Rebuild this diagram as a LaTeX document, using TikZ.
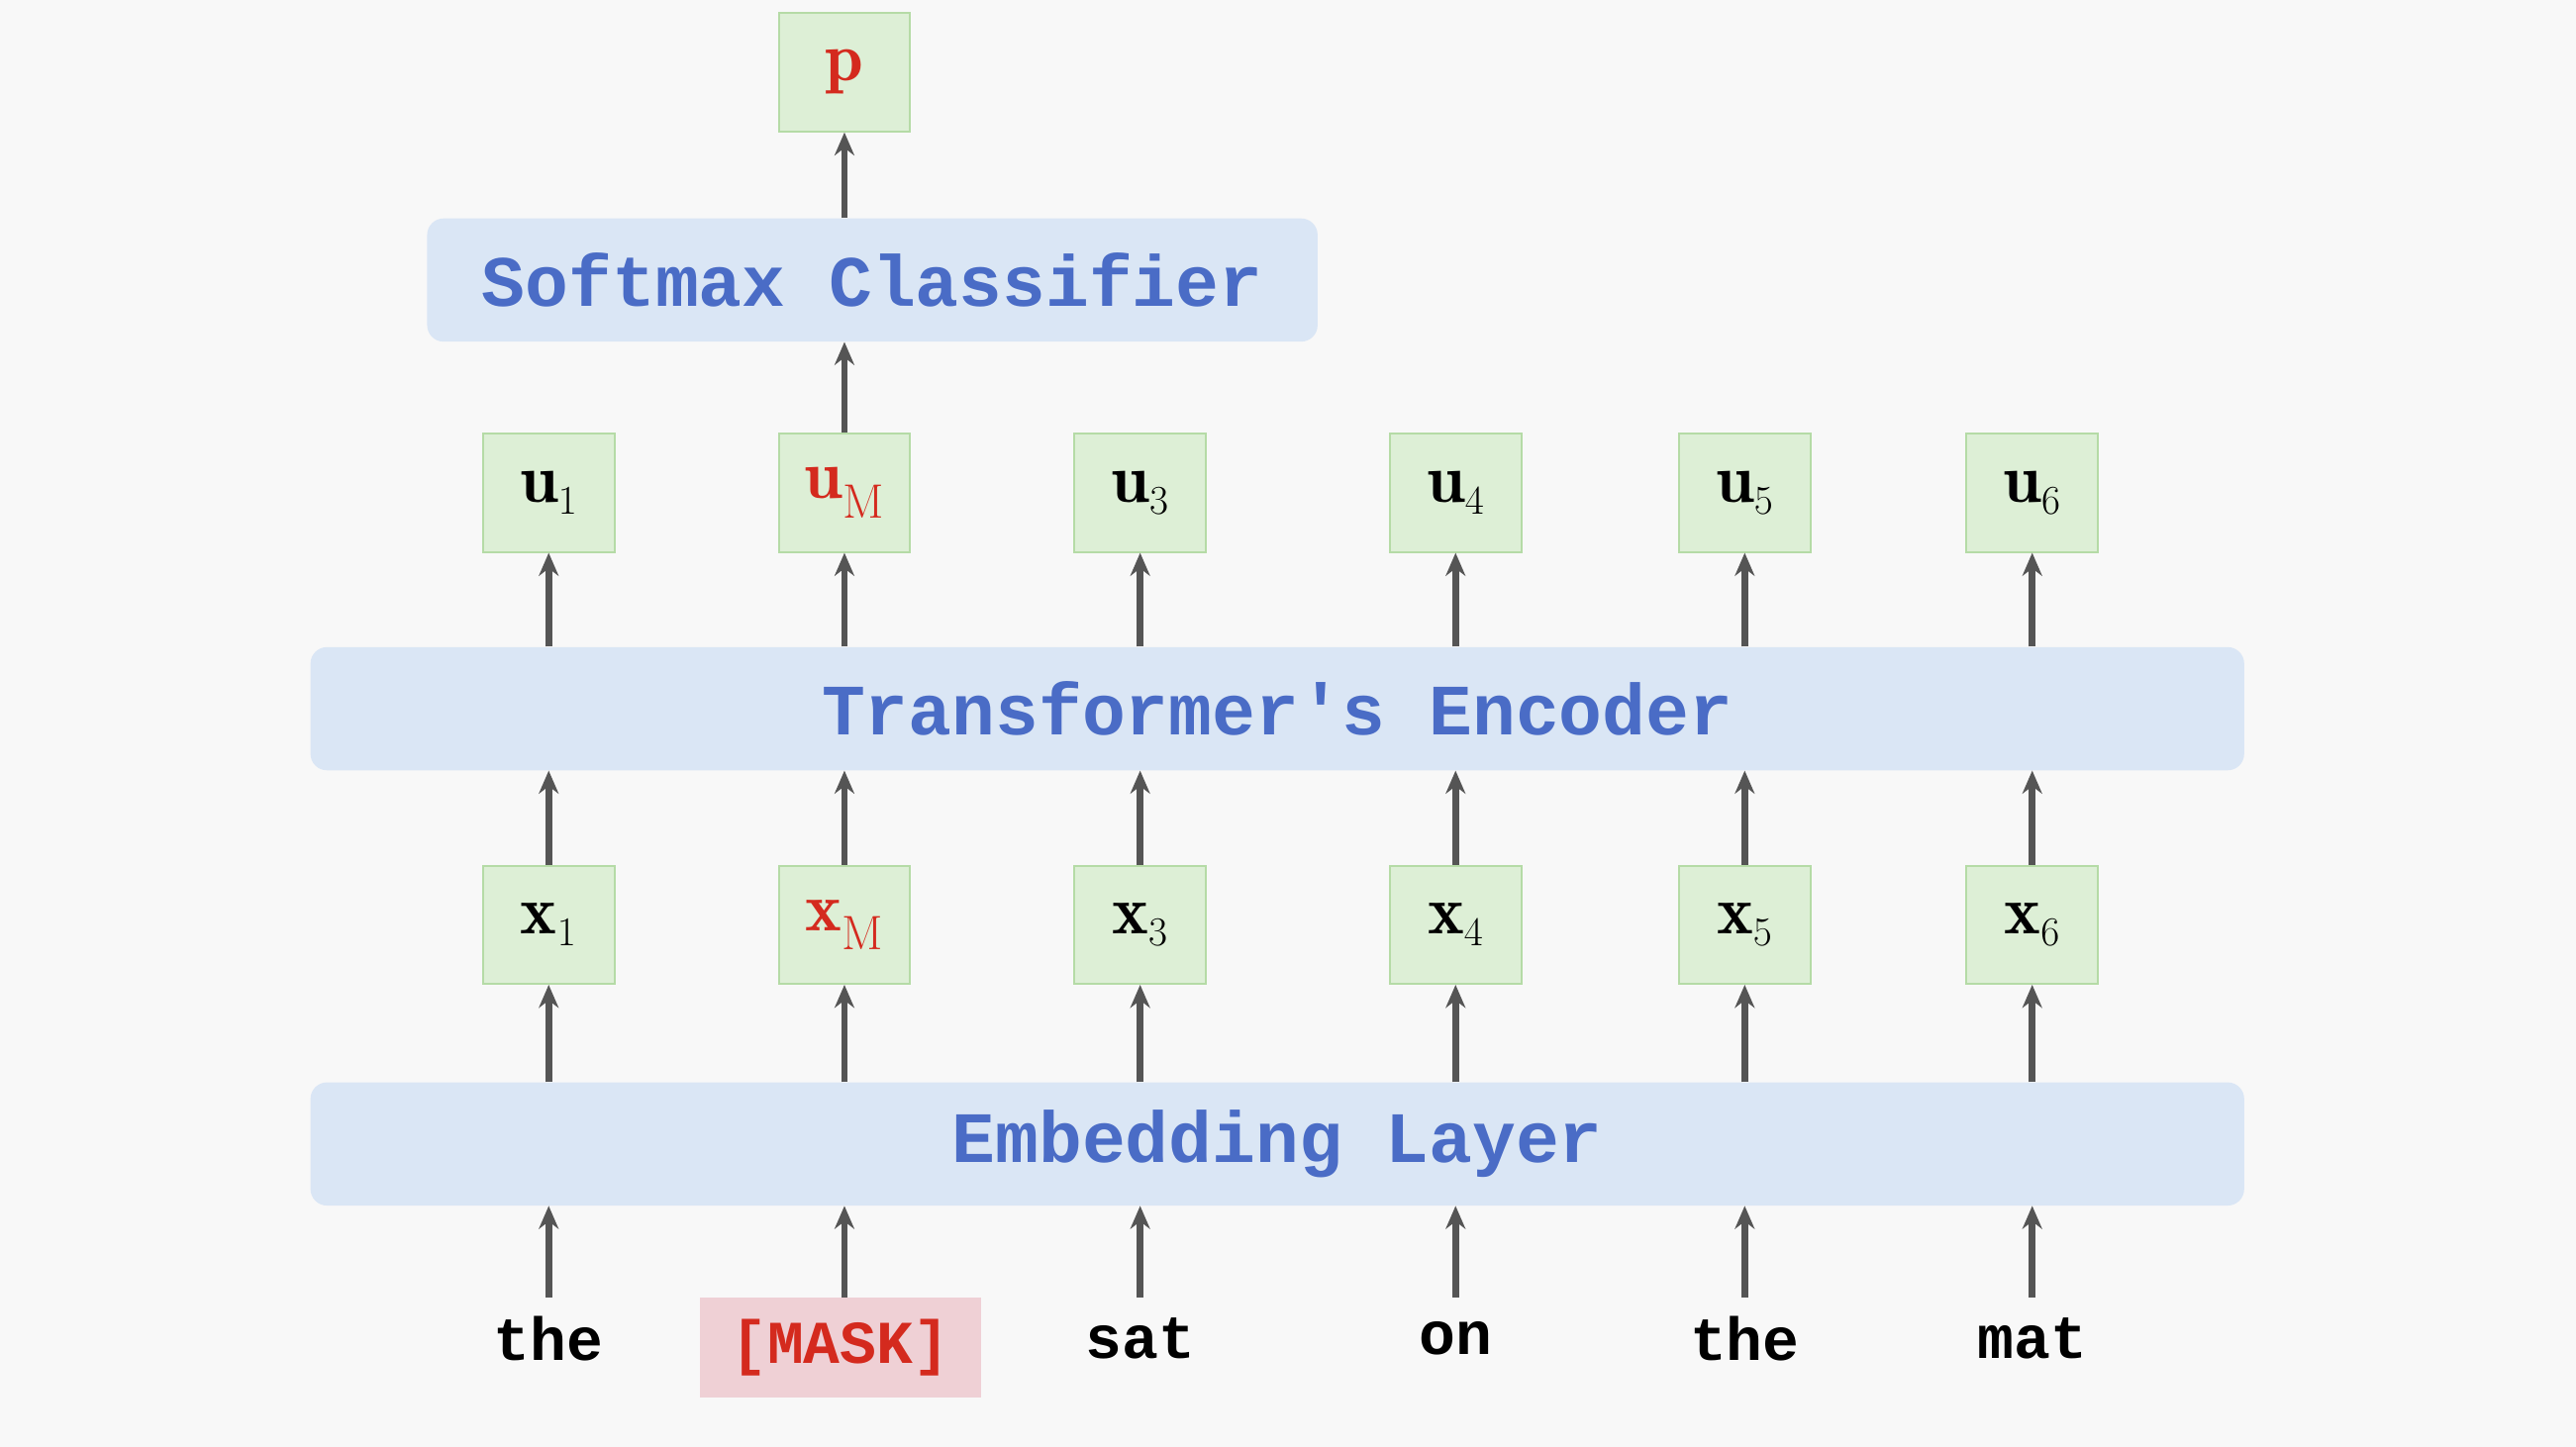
\documentclass[tikz,border=0pt]{standalone}
\usepackage{fontspec}
\setmonofont{Liberation Mono}
\usetikzlibrary{arrows.meta}
\definecolor{bg}{HTML}{F8F8F8}
\definecolor{gfill}{HTML}{DDEFD6}
\definecolor{gdraw}{HTML}{B5DBA6}
\definecolor{bfill}{HTML}{DAE6F5}
\definecolor{btext}{HTML}{4A6CC6}
\definecolor{rtext}{HTML}{D42A1E}
\definecolor{pfill}{HTML}{EFD0D5}
\definecolor{arr}{HTML}{555555}
\tikzset{
 vec/.style={draw=gdraw,line width=1.2pt,fill=gfill,minimum width=80pt,minimum height=72pt,inner sep=0pt,font=\fontsize{42}{42}\selectfont},
 layer/.style={fill=bfill,rounded corners=10pt,inner sep=0pt,font=\fontsize{44}{44}\selectfont\ttfamily\bfseries,text=btext},
 word/.style={font=\fontsize{37}{37}\selectfont\ttfamily\bfseries,inner sep=0pt},
 up/.style={-{Stealth[length=14pt,width=12pt]},line width=4pt,draw=arr}
}
\begin{document}
\begin{tikzpicture}[x=1pt,y=-1pt]
\fill[bg] (0,0) rectangle (1568,881);
\useasboundingbox (0,0) rectangle (1568,881);
\node[vec,text=rtext] (p) at (514,44) {$\mathbf{p}$};
\node[layer,minimum width=542pt,minimum height=75pt] (soft) at (531,170.5) {Softmax Classifier};
\node[layer,minimum width=1177pt,minimum height=75pt] (enc) at (777.5,431.5) {Transformer's Encoder};
\node[layer,minimum width=1177pt,minimum height=75pt] (emb) at (777.5,696.5) {Embedding Layer};
\foreach \i/\xx in {1/334,3/694,4/886,5/1062,6/1237}{
 \node[vec] (u\i) at (\xx,300) {$\mathbf{u}_{\i}$};
 \node[vec] (x\i) at (\xx,563) {$\mathbf{x}_{\i}$};
}
\node[vec,text=rtext] (u2) at (514,300) {$\mathbf{u}_{\mathrm{M}}$};
\node[vec,text=rtext] (x2) at (514,563) {$\mathbf{x}_{\mathrm{M}}$};
\node[word] (w1) at (334,815) {the};
\node[word,fill=pfill,text=rtext,minimum width=171pt,minimum height=61pt] (w2) at (511.5,820.5) {[MASK]};
\node[word] (w3) at (694,815) {sat};
\node[word] (w4) at (886,815) {on};
\node[word] (w5) at (1062,815) {the};
\node[word] (w6) at (1237,815) {mat};
\draw[up] (soft.north -| p) -- (p.south);
\draw[up] (u2.north) -- (soft.south -| u2);
\foreach \i in {1,...,6}{
 \draw[up] (enc.north -| u\i) -- (u\i.south);
 \draw[up] (x\i.north) -- (enc.south -| x\i);
 \draw[up] (emb.north -| x\i) -- (x\i.south);
 \coordinate (s\i) at ([yshift=-790pt]x\i |- 0,0);
 \draw[up] (x\i |- 0,790) -- (emb.south -| x\i);
}
\end{tikzpicture}
\end{document}
